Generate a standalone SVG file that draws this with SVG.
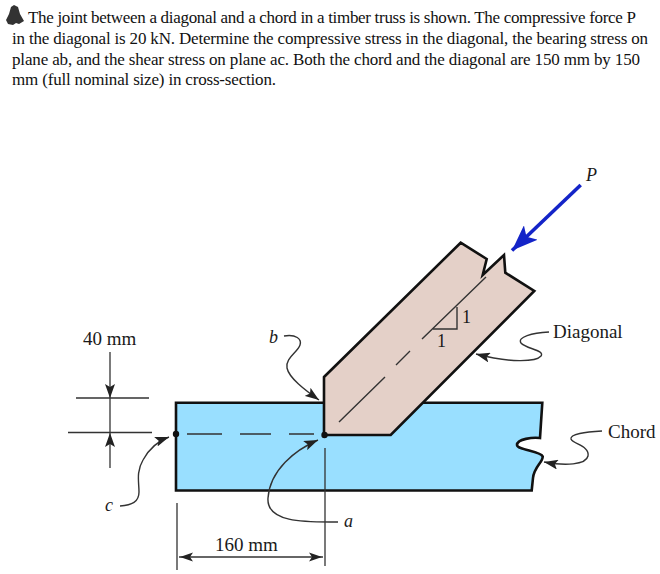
<svg xmlns="http://www.w3.org/2000/svg" width="660" height="574" viewBox="0 0 660 574">
<style>
text{font-family:"Liberation Serif","Times New Roman",serif;fill:#1a1a1a}
.p{font-size:17px;fill:#111}
.l{font-size:19px}
.i{font-size:18px;font-style:italic}
.n{font-size:18px}
.t{fill:none;stroke:#333;stroke-width:1.3}
.c{fill:none;stroke:#333;stroke-width:1.4}
</style>
<defs>
<marker id="a" viewBox="0 0 14 10" refX="14" refY="5" markerWidth="14" markerHeight="10" markerUnits="userSpaceOnUse" orient="auto"><path d="M0 0L14 5L0 10L3 5Z" fill="#222"/></marker>
<marker id="b" viewBox="0 0 26 20" refX="26" refY="10" markerWidth="26" markerHeight="20" markerUnits="userSpaceOnUse" orient="auto"><path d="M0 0L26 10L0 20L6 10Z" fill="#1424c8"/></marker>
</defs>
<rect width="660" height="574" fill="#fff"/>
<g id="problem-text">
<path d="M6 20L9 14L11 7L14 5L18 7L20 14L24 21L19 24L16 23L13 25L8 24Z" fill="#333"/>
<text class="p" x="28" y="23" textLength="608" lengthAdjust="spacing">The joint between a diagonal and a chord in a timber truss is shown. The compressive force P</text>
<text class="p" x="12" y="43.500" textLength="636" lengthAdjust="spacing">in the diagonal is 20 kN. Determine the compressive stress in the diagonal, the bearing stress on</text>
<text class="p" x="12" y="64.500" textLength="628" lengthAdjust="spacing">plane ab, and the shear stress on plane ac. Both the chord and the diagonal are 150 mm by 150</text>
<text class="p" x="12" y="85" textLength="264" lengthAdjust="spacing">mm (full nominal size) in cross-section.</text>
</g>
<g id="chord">
<path d="M176 402.700H542.300L540 438C533 437 517 439 517 445C517 450 541 451 542.700 456.500C543 462 534 467 533 478L531.700 490.500H176Z" fill="#99dfff" stroke="#111" stroke-width="2.600"/>
<circle cx="176" cy="434" r="3.200" fill="#111"/>
</g>
<g id="diagonal">
<path d="M324 377L460.700 242.700L486.700 259L482.700 275L504 255L505.300 272.700L534.300 291L390.700 435H324Z" fill="#e4d0c8" stroke="#111" stroke-width="2.600"/>
<circle cx="324.500" cy="435" r="3.200" fill="#111"/>
</g>
<g id="connectors">
<path class="c" d="M187 434H222M240 434H271M289 434H314"/>
<path class="c" d="M339 422L385 377M396 365L410 351M422 339L486 277"/>
<path class="c" d="M433 329H457V307"/>
<path d="M580.700 185L512 250.500" fill="none" stroke="#1424c8" stroke-width="3.600" marker-end="url(#b)"/>
<path class="c" d="M549 332C532 333 517 337 521 343C526 349 545 350 541 356C536 362 510 363 476 354" marker-end="url(#a)"/>
<path class="c" d="M602 431C585 432 570 434 571 439C573 444 590 446 588 456C586 465 565 466 544 462" marker-end="url(#a)"/>
<path class="c" d="M284 336C296 334 302 339 300 345C298 352 285 358 287 368C289 378 305 390 319 400" marker-end="url(#a)"/>
<path class="c" d="M338 522C310 522 266 524 268 498C270 470 295 450 318 440" marker-end="url(#a)"/>
<path class="c" d="M120 506C132 505 139 502 139 492C139 482 136 472 143 460C149 449 158 441 169 437" marker-end="url(#a)"/>
<path class="t" d="M325 448V566M177 503V570"/>
<path class="t" d="M179 557H323"/>
<path d="M180 557L193 552.500L190 557L193 561.500Z" fill="#222"/>
<path d="M322 557L309 552.500L312 557L309 561.500Z" fill="#222"/>
<path class="t" d="M76 398H149M68 432.500H152"/>
<path class="t" d="M110 352V398" marker-end="url(#a)"/>
<path class="t" d="M110 468V433" marker-end="url(#a)"/>
<path class="t" d="M110 398V433"/>
</g>
<g id="labels">
<text class="i" x="586" y="181">P</text>
<text class="l" x="553" y="338">Diagonal</text>
<text class="l" x="608" y="438">Chord</text>
<text class="l" x="83" y="345">40 mm</text>
<text class="l" x="215" y="551">160 mm</text>
<text class="i" x="269" y="343">b</text>
<text class="i" x="105" y="511">c</text>
<text class="i" x="344" y="527">a</text>
<text class="n" x="462" y="323">1</text>
<text class="n" x="437" y="347">1</text>
</g>
</svg>
